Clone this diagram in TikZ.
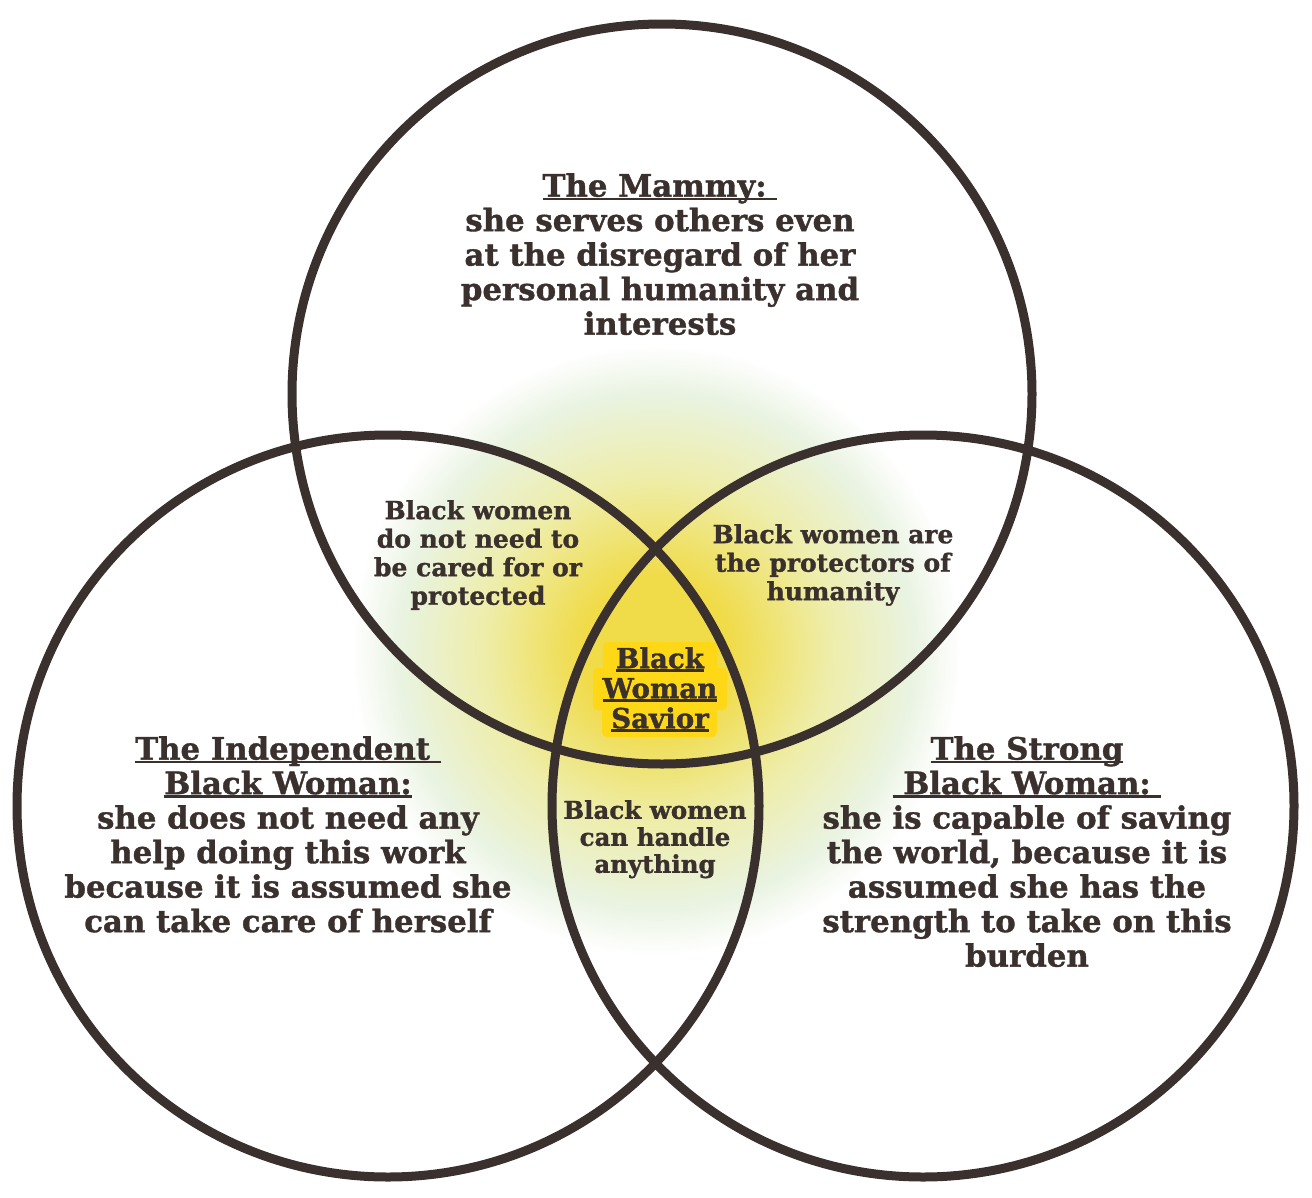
\documentclass[tikz,border=0pt]{standalone}
\usepackage{fontspec}
\setmainfont{DejaVu Serif}[BoldFeatures={FakeBold=1.2}]
\definecolor{ink}{HTML}{3A302D}
\definecolor{gcore}{HTML}{F0DB48}
\definecolor{gmid}{HTML}{EEEDA8}
\definecolor{gedge}{HTML}{E9F3E1}
\definecolor{hl}{HTML}{FED717}
\pgfdeclareradialshading{glow}{\pgfpoint{0bp}{0bp}}{color(0bp)=(gcore); color(6bp)=(gcore); color(14bp)=(gmid); color(21bp)=(gedge); color(25bp)=(white); color(50bp)=(white)}
\newsavebox\ulbox
\newcommand\myul[1]{\sbox\ulbox{#1}\rlap{\rule[-3.5pt]{\wd\ulbox}{2.4pt}}\usebox\ulbox}
\begin{document}
\begin{tikzpicture}[x=1pt,y=-1pt,
  ring/.style={draw=ink, line width=9pt},
  txt/.style={text=ink, font=\bfseries\fontsize{30.8}{34.5}\selectfont, align=center, inner sep=0pt, anchor=north},
  mid/.style={txt, font=\bfseries\fontsize{25}{28.5}\selectfont},
  low/.style={txt, font=\bfseries\fontsize{24.5}{27}\selectfont},
  core/.style={txt, font=\bfseries\fontsize{27.7}{30}\selectfont},
  hlbox/.style={fill=hl, rounded corners=5pt}]
\useasboundingbox (0,0) rectangle (1312,1197);
\path[shading=glow] (656,650) circle (305);
\draw[ring] (662,394) circle (370);
\draw[ring] (388,806) circle (371);
\draw[ring] (923,806) circle (371);
\fill[hlbox] (603,642) rectangle (717,672);
\fill[hlbox] (593,668) rectangle (727,710);
\fill[hlbox] (602,706) rectangle (717,737);
\node[core] (savior) at (660,647) {\myul{Black}\\ \myul{Woman}\\ \myul{Savior}};
\node[txt] (mammy) at (660,173) {\myul{The Mammy:\ }\\ she serves others even\\ at the disregard of her\\ personal humanity and\\ interests};
\node[mid] (tl) at (478,500) {Black women\\ do not need to\\ be cared for or\\ protected};
\node[mid] (tr) at (833,524) {Black women are\\ the protectors of\\ humanity};
\node[low] (lr) at (655,800) {Black women\\ can handle\\ anything};
\node[txt] (indep) at (288,736) {\myul{The Independent\ }\\ \myul{Black Woman:}\\ she does not need any\\ help doing this work\\ because it is assumed she\\ can take care of herself};
\node[txt] (strong) at (1027,736) {\myul{The Strong}\\ \myul{\ Black Woman:\ }\\ she is capable of saving\\ the world, because it is\\ assumed she has the\\ strength to take on this\\ burden};
\end{tikzpicture}
\end{document}
